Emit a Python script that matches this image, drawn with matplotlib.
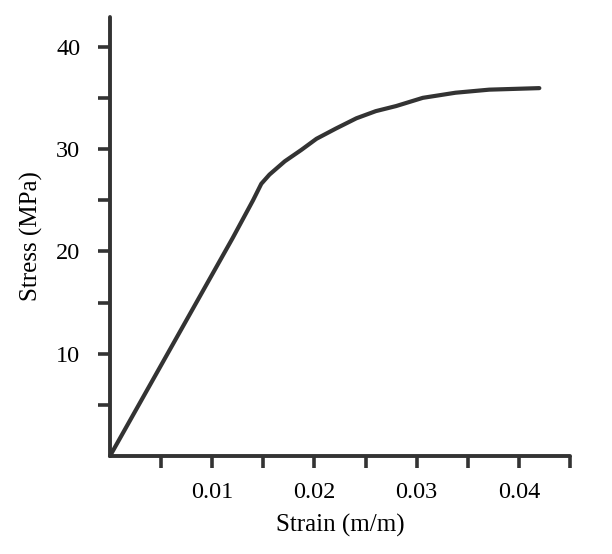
import matplotlib
matplotlib.use("Agg")
import matplotlib.pyplot as plt

# curve
strain = [0.0, 0.0120, 0.0140, 0.0148, 0.0156, 0.0171, 0.0187, 0.0202,
          0.0221, 0.0241, 0.0260, 0.0280, 0.0306, 0.0338, 0.0371, 0.0420]
stress = [0.0, 21.3, 25.0, 26.6, 27.5, 28.8, 29.9, 31.0,
          32.0, 33.0, 33.7, 34.2, 35.0, 35.5, 35.8, 35.95]

x_ticks = [0.005, 0.01, 0.015, 0.02, 0.025, 0.03, 0.035, 0.04, 0.045]
x_labels = ["", "0.01", "", "0.02", "", "0.03", "", "0.04", ""]
y_ticks = [5, 10, 15, 20, 25, 30, 35, 40]
y_labels = ["", "10", "", "20", "", "30", "", "40"]

plt.rcParams["font.family"] = ["Liberation Serif", "DejaVu Serif"]
ink = "#333333"

fig = plt.figure(figsize=(6.12, 5.54), dpi=100)
ax = fig.add_axes([110 / 612, 98 / 554, 460 / 612, 439 / 554])

ax.plot(strain, stress, color=ink, lw=3.0, solid_capstyle="round",
        solid_joinstyle="round", clip_on=False)

ax.set_xlim(0, 0.045)
ax.set_ylim(0, 42.9)
ax.set_xticks(x_ticks)
ax.set_xticklabels(x_labels)
ax.set_yticks(y_ticks)
ax.set_yticklabels(y_labels)

for side in ("top", "right"):
    ax.spines[side].set_visible(False)
for side in ("left", "bottom"):
    ax.spines[side].set_linewidth(2.8)
    ax.spines[side].set_color(ink)
    ax.spines[side].set_capstyle("round")

ax.tick_params(axis="both", direction="out", length=8.5, width=2.6,
               color=ink, labelsize=17.5, labelcolor="black")
ax.tick_params(axis="x", pad=10)
ax.tick_params(axis="y", pad=13)

ax.set_xlabel("Strain (m/m)", fontsize=18, labelpad=8)
ax.set_ylabel("Stress (MPa)", fontsize=18, labelpad=9)

fig.savefig("out.png", dpi=100)
